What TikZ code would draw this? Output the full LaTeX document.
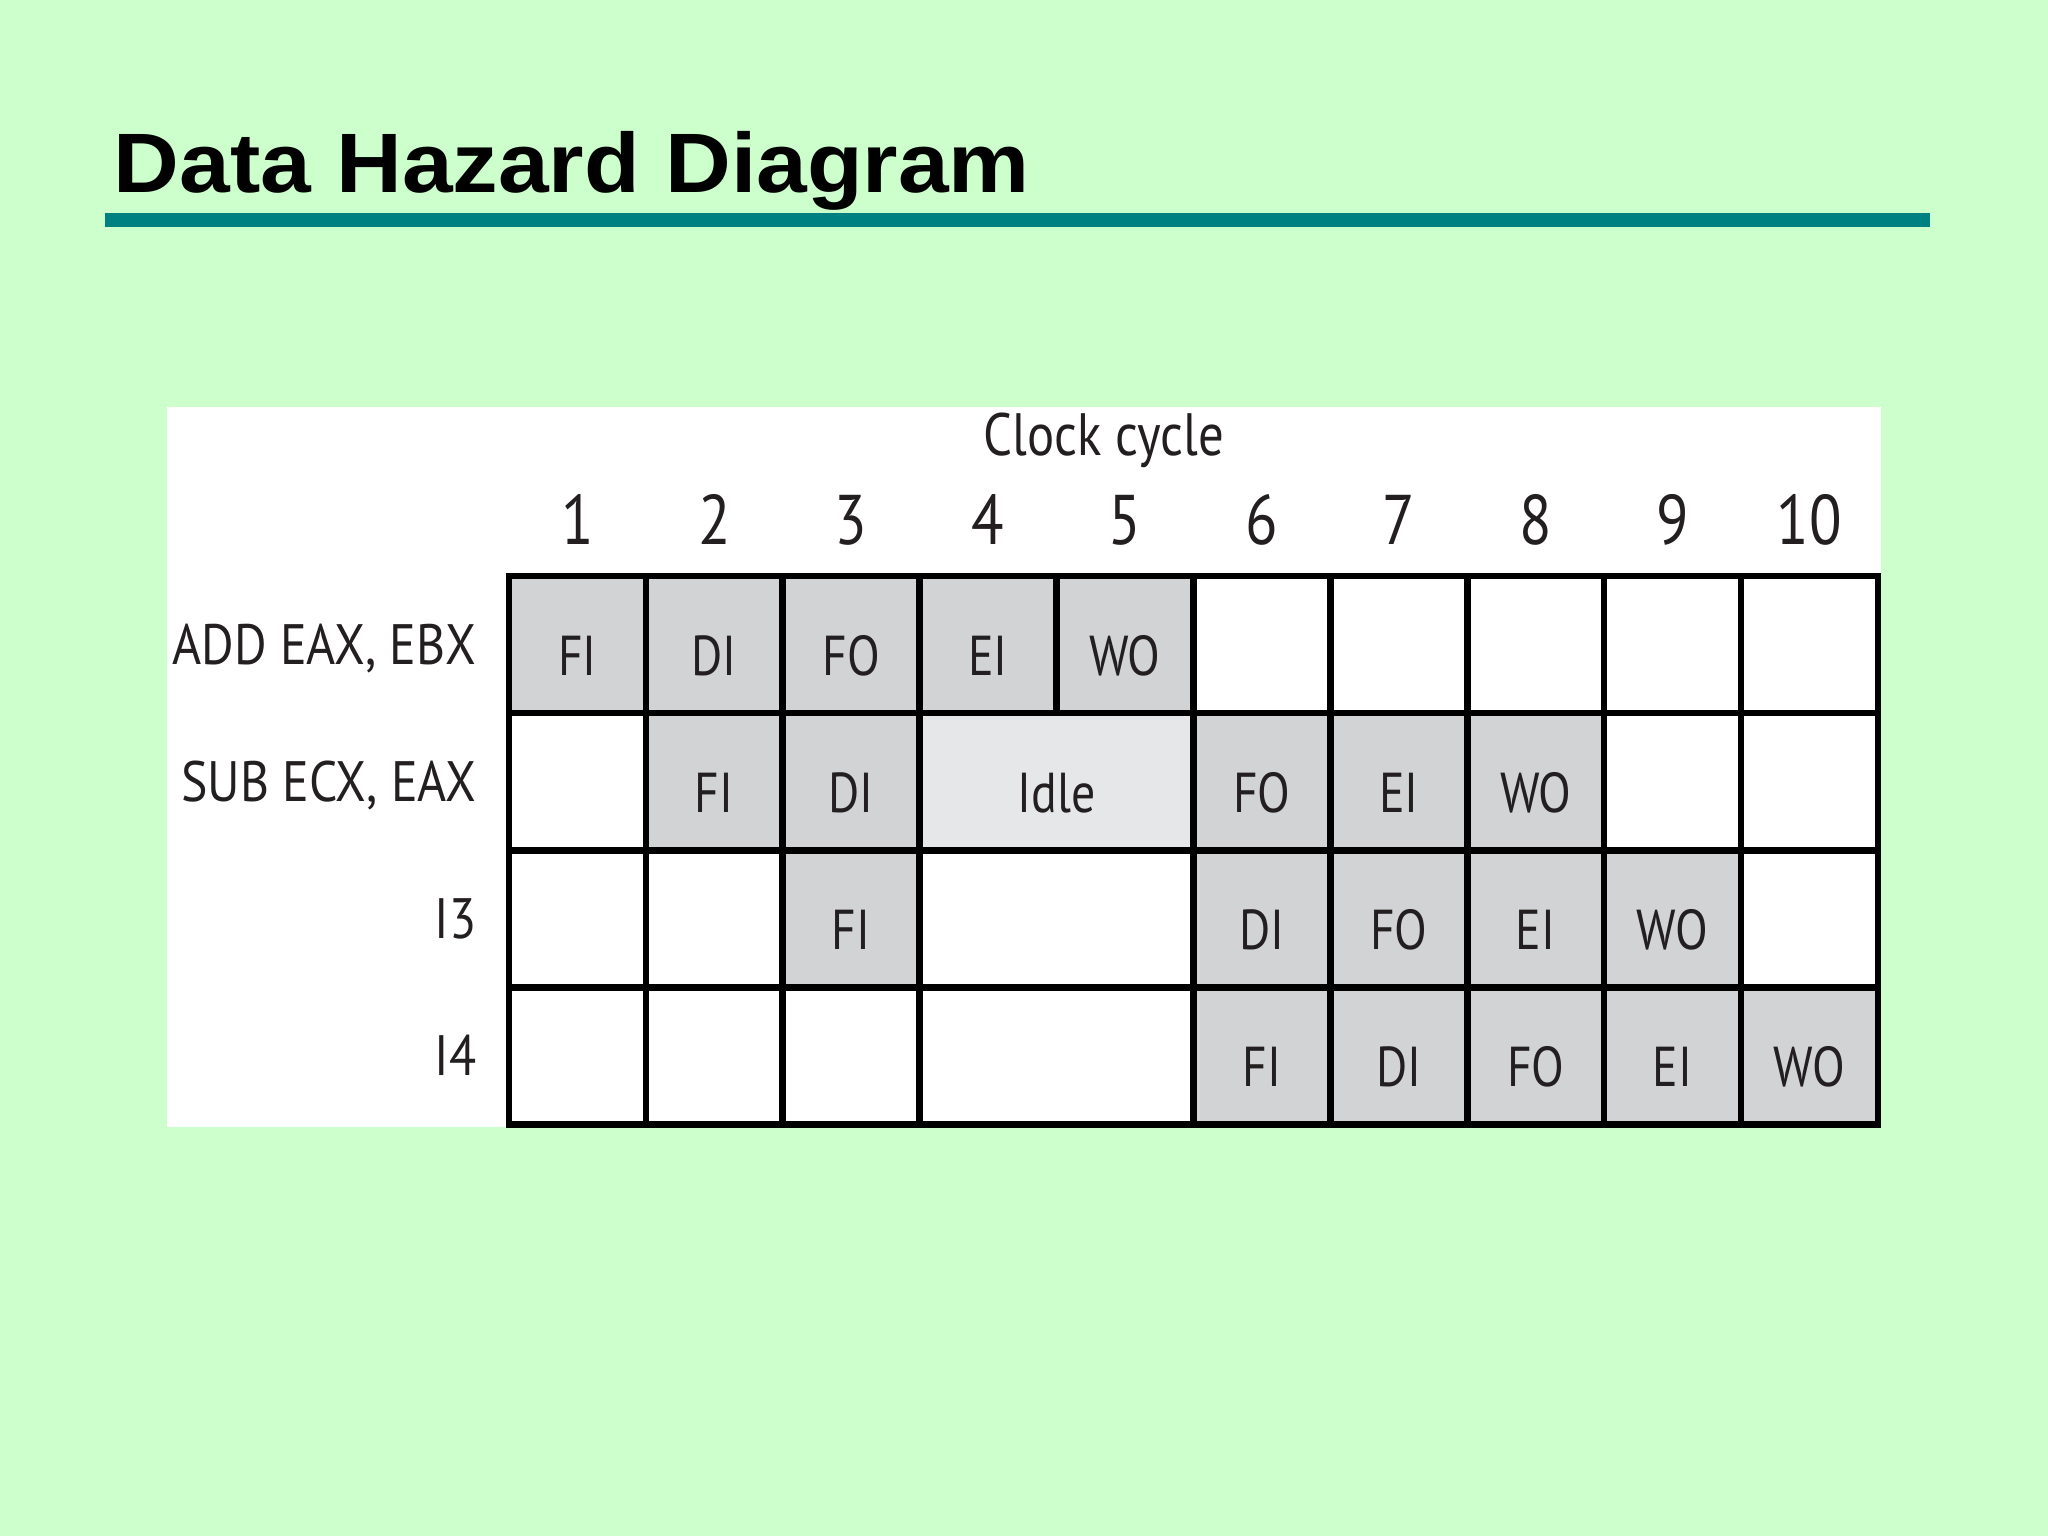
\documentclass[tikz,border=0pt]{standalone}
\usepackage{fontspec}
\setmainfont{PT Sans}[FakeStretch=0.85]
\newfontfamily\labelfont{PT Sans}[FakeStretch=0.875]
\newfontfamily\titlefont{Liberation Sans}[FakeStretch=1.08]
\definecolor{slidebg}{HTML}{CCFFCC}
\definecolor{rulecol}{HTML}{008080}
\definecolor{stagegray}{HTML}{D1D3D4}
\definecolor{idlegray}{HTML}{E6E7E8}
\definecolor{ink}{HTML}{231F20}
\tikzset{
	cell/.style={draw=black, line width=1.9pt, minimum width=1.369cm, minimum height=1.371cm,
		inner sep=0pt, text=ink, font=\fontsize{16}{16}\selectfont, text height=17.4pt, text depth=0pt},
	busy/.style={cell, fill=stagegray},
	free/.style={cell, fill=white},
	wide/.style={minimum width=2.738cm},
	rowlabel/.style={anchor=east, inner sep=0pt, text=ink, font=\labelfont\fontsize{16.2}{16}\selectfont,
		text height=11.2pt, text depth=0pt},
	cyclenum/.style={inner sep=0pt, text=ink, font=\fontsize{20}{20}\selectfont,
		text height=14pt, text depth=0pt}
}
\begin{document}
\begin{tikzpicture}
		% slide background, title and rule
		\fill[slidebg] (0,0) rectangle (20.48,-15.36);
		\useasboundingbox (0,0) rectangle (20.48,-15.36);
		\node[anchor=base west, inner sep=0pt, font=\titlefont\bfseries\fontsize{24}{24}\selectfont] (title) at (1.13,-1.93) {Data Hazard Diagram};
		\fill[rulecol] (1.045,-2.13) rectangle (19.30,-2.27);
		\fill[white] (1.67,-4.075) rectangle (18.81,-11.27);

		% header
		\node[anchor=base, inner sep=0pt, text=ink, font=\fontsize{17}{17}\selectfont] (clk) at (11.04,-4.56) {Clock cycle};
		\node[cyclenum] (n1) at (5.775,-5.20) {1};
		\node[cyclenum] (n2) at (7.143,-5.20) {2};
		\node[cyclenum] (n3) at (8.512,-5.20) {3};
		\node[cyclenum] (n4) at (9.881,-5.20) {4};
		\node[cyclenum] (n5) at (11.250,-5.20) {5};
		\node[cyclenum] (n6) at (12.619,-5.20) {6};
		\node[cyclenum] (n7) at (13.988,-5.20) {7};
		\node[cyclenum] (n8) at (15.357,-5.20) {8};
		\node[cyclenum] (n9) at (16.726,-5.20) {9};
		\node[cyclenum] (n10) at (18.095,-5.20) {10};

		% instructions
		\node[rowlabel] (la) at (4.77,-6.446) {ADD EAX, EBX};
		\node[rowlabel] (lb) at (4.77,-7.817) {SUB ECX, EAX};
		\node[rowlabel] (lc) at (4.77,-9.188) {I3};
		\node[rowlabel] (ld) at (4.77,-10.559) {I4};

		% ADD EAX, EBX
		\node[busy] (a1) at (5.775,-6.446) {FI};
		\node[busy] (a2) at (7.143,-6.446) {DI};
		\node[busy] (a3) at (8.512,-6.446) {FO};
		\node[busy] (a4) at (9.881,-6.446) {EI};
		\node[busy] (a5) at (11.250,-6.446) {WO};
		\node[free] (a6) at (12.619,-6.446) {};
		\node[free] (a7) at (13.988,-6.446) {};
		\node[free] (a8) at (15.357,-6.446) {};
		\node[free] (a9) at (16.726,-6.446) {};
		\node[free] (a10) at (18.095,-6.446) {};

		% SUB ECX, EAX
		\node[free] (b1) at (5.775,-7.817) {};
		\node[busy] (b2) at (7.143,-7.817) {FI};
		\node[busy] (b3) at (8.512,-7.817) {DI};
		\node[cell, wide, fill=idlegray] (b45) at (10.566,-7.817) {Idle};
		\node[busy] (b6) at (12.619,-7.817) {FO};
		\node[busy] (b7) at (13.988,-7.817) {EI};
		\node[busy] (b8) at (15.357,-7.817) {WO};
		\node[free] (b9) at (16.726,-7.817) {};
		\node[free] (b10) at (18.095,-7.817) {};

		% I3
		\node[free] (c1) at (5.775,-9.188) {};
		\node[free] (c2) at (7.143,-9.188) {};
		\node[busy] (c3) at (8.512,-9.188) {FI};
		\node[free, wide] (c45) at (10.566,-9.188) {};
		\node[busy] (c6) at (12.619,-9.188) {DI};
		\node[busy] (c7) at (13.988,-9.188) {FO};
		\node[busy] (c8) at (15.357,-9.188) {EI};
		\node[busy] (c9) at (16.726,-9.188) {WO};
		\node[free] (c10) at (18.095,-9.188) {};

		% I4
		\node[free] (d1) at (5.775,-10.559) {};
		\node[free] (d2) at (7.143,-10.559) {};
		\node[free] (d3) at (8.512,-10.559) {};
		\node[free, wide] (d45) at (10.566,-10.559) {};
		\node[busy] (d6) at (12.619,-10.559) {FI};
		\node[busy] (d7) at (13.988,-10.559) {DI};
		\node[busy] (d8) at (15.357,-10.559) {FO};
		\node[busy] (d9) at (16.726,-10.559) {EI};
		\node[busy] (d10) at (18.095,-10.559) {WO};
	\end{tikzpicture}
\end{document}
